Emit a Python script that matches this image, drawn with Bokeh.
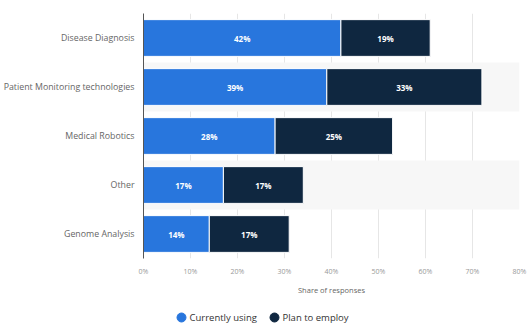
from bokeh.plotting import figure
from bokeh.layouts import column
from bokeh.models import ColumnDataSource, Range1d, NumeralTickFormatter, FixedTicker, Text
from bokeh.core.properties import value
from bokeh.embed import file_html
from bokeh.resources import INLINE

categories = ["Disease Diagnosis", "Patient Monitoring technologies", "Medical Robotics", "Other", "Genome Analysis"]
currently_using = [42, 39, 28, 17, 14]
plan_to_employ = [19, 33, 25, 17, 17]
x_ticks = [0, 10, 20, 30, 40, 50, 60, 70, 80]
series_names = ["Currently using", "Plan to employ"]

BLUE = "#2876dd"
NAVY = "#0f2740"
FONT = "Open Sans"

src = ColumnDataSource(dict(
    cat=categories,
    cur_end=currently_using,
    plan_end=[c + p for c, p in zip(currently_using, plan_to_employ)],
    cur_mid=[c / 2 for c in currently_using],
    plan_mid=[c + p / 2 for c, p in zip(currently_using, plan_to_employ)],
    cur_lbl=[f"{v}%" for v in currently_using],
    plan_lbl=[f"{v}%" for v in plan_to_employ],
))

p = figure(width=530, height=298, y_range=list(reversed(categories)),
           x_range=Range1d(0, 80), output_backend="svg", toolbar_location=None,
           min_border_left=143, min_border_right=11, min_border_top=13, min_border_bottom=40)
p.outline_line_color = None
p.background_fill_color = "white"

# alternating row shading
for i, c in enumerate(categories):
    if i % 2 == 1:
        p.hbar(y=[c], left=[0], right=[80], height=1.0, fill_color="#f7f7f7", line_color=None)

r1 = p.hbar(y="cat", left=0, right="cur_end", height=0.75, source=src,
            fill_color=BLUE, line_color="white", line_width=1)
r2 = p.hbar(y="cat", left="cur_end", right="plan_end", height=0.75, source=src,
            fill_color=NAVY, line_color="white", line_width=1)

extra = {}
if "outline_shade_color" in Text.properties():
    extra = dict(outline_shade_color="#1a1a1a", outline_shade_alpha=0.8)

for xcol, lcol in (("cur_mid", "cur_lbl"), ("plan_mid", "plan_lbl")):
    p.text(x=xcol, y="cat", text=lcol, source=src, text_align="center", text_baseline="middle",
           text_color="white", text_font=value(FONT), text_font_style="bold",
           text_font_size="8px", **extra)

# axes
p.xaxis.ticker = FixedTicker(ticks=x_ticks)
p.xaxis.formatter = NumeralTickFormatter(format="0")
p.xaxis.major_label_overrides = {t: f"{t}%" for t in x_ticks}
p.xaxis.axis_line_color = None
p.xaxis.major_tick_line_color = None
p.xaxis.minor_tick_line_color = None
p.xaxis.major_tick_out = 0
p.xaxis.minor_tick_out = 0
p.xaxis.major_label_text_font = FONT
p.xaxis.major_label_text_font_size = "7px"
p.xaxis.major_label_text_color = "#999999"
p.xaxis.major_label_standoff = 8
p.xaxis.axis_label = "Share of responses"
p.xaxis.axis_label_text_font = FONT
p.xaxis.axis_label_text_font_size = "7.5px"
p.xaxis.axis_label_text_font_style = "normal"
p.xaxis.axis_label_text_color = "#666666"
p.xaxis.axis_label_standoff = 6

p.yaxis.axis_line_color = "#555555"
p.yaxis.axis_line_width = 1
p.yaxis.major_tick_line_color = None
p.yaxis.minor_tick_line_color = None
p.yaxis.major_tick_out = 0
p.yaxis.minor_tick_out = 0
p.yaxis.major_label_text_font = FONT
p.yaxis.major_label_text_font_size = "8.8px"
p.yaxis.major_label_text_color = "#666666"
p.yaxis.major_label_standoff = 9

p.xgrid.grid_line_color = "#e6e6e6"
p.xgrid.grid_line_width = 1
p.ygrid.grid_line_color = None

# legend strip (pixel-space layout figure; frame aligned with main frame)
p2 = figure(width=530, height=30, x_range=Range1d(143, 519), y_range=Range1d(0, 30),
            x_axis_type=None, y_axis_type=None,
            output_backend="svg", toolbar_location=None,
            min_border_left=143, min_border_right=11, min_border_top=0, min_border_bottom=0)
p2.grid.visible = False
p2.outline_line_color = None
leg_src = ColumnDataSource(dict(
    gx=[181, 274], tx=[189, 282], y=[11, 11],
    color=[BLUE, NAVY], label=series_names))
p2.scatter(x="gx", y="y", source=leg_src, marker="circle", size=9,
           fill_color="color", line_color="color")
p2.text(x="tx", y="y", text="label", source=leg_src, text_baseline="middle", text_align="left",
        text_font=value(FONT), text_font_size="9.5px", text_color="#333333")

open("out.html", "w").write(file_html(column(p, p2, spacing=0), INLINE))
